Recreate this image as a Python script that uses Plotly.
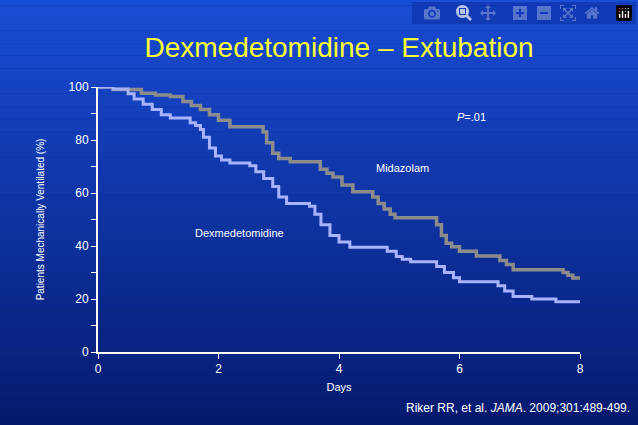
import plotly.graph_objects as go

mid_days = [0, 0.25, 0.72, 0.95, 1.2, 1.41, 1.55, 1.7, 1.85, 2.0, 2.19, 2.74, 2.8, 2.9, 3.0, 3.19, 3.69, 3.8, 3.9, 4.05, 4.23, 4.56, 4.65, 4.75, 4.85, 4.93, 5.62, 5.7, 5.78, 5.87, 6.0, 6.28, 6.67, 6.78, 6.89, 7.72, 7.8, 7.88, 8.0]
mid_vals = [100, 99.1, 97.6, 97.0, 96.4, 94.5, 93.0, 91.5, 89.5, 87.5, 85.0, 83.0, 79.0, 75.0, 73.0, 71.8, 69.0, 67.5, 66.0, 63.0, 60.5, 58.5, 56.0, 54.0, 52.0, 50.7, 48.0, 44.0, 41.0, 39.7, 38.0, 36.2, 34.5, 33.0, 31.0, 30.0, 29.0, 27.9, 27.9]
dex_days = [0, 0.25, 0.5, 0.6, 0.75, 0.9, 1.05, 1.2, 1.53, 1.62, 1.7, 1.75, 1.85, 1.95, 2.05, 2.19, 2.52, 2.62, 2.75, 2.9, 3.0, 3.13, 3.51, 3.6, 3.7, 3.85, 4.0, 4.18, 4.8, 4.95, 5.05, 5.19, 5.62, 5.75, 5.9, 6.0, 6.64, 6.75, 6.89, 7.2, 7.6, 8.0]
dex_vals = [100, 99.2, 97.5, 95.5, 93.5, 91.5, 89.5, 88.3, 86.5, 85.5, 84.0, 81.0, 77.0, 74.0, 72.5, 71.3, 70.3, 68.0, 65.5, 62.5, 58.5, 56.0, 55.0, 52.0, 48.0, 44.0, 41.5, 39.5, 38.0, 36.0, 35.0, 34.1, 32.3, 30.0, 28.0, 26.5, 25.0, 23.0, 20.9, 20.0, 19.0, 19.0]

fig = go.Figure()
fig.add_trace(go.Scatter(x=mid_days, y=mid_vals, mode="lines", line=dict(shape="hv", color="#8c8c8c", width=3.5), name="Midazolam"))
fig.add_trace(go.Scatter(x=dex_days, y=dex_vals, mode="lines", line=dict(shape="hv", color="#a9b4ff", width=3), name="Dexmedetomidine"))

# gradient background
n = 40
top = (26, 80, 220); bot = (4, 22, 100)
shapes = []
for i in range(n):
    t = i / (n - 1)
    c = tuple(int(top[k] + (bot[k] - top[k]) * t) for k in range(3))
    shapes.append(dict(type="rect", xref="paper", yref="paper", x0=-0.5, x1=1.5,
                       y0=1.45 - (i + 1) * 1.9 / n, y1=1.45 - i * 1.9 / n,
                       fillcolor="rgb(%d,%d,%d)" % c, line=dict(width=0), layer="below"))

fig.update_layout(
    width=638, height=425, margin=dict(l=98, r=58, t=87, b=73, autoexpand=False),
    paper_bgcolor="#0a2a9a", plot_bgcolor="rgba(0,0,0,0)", showlegend=False,
    shapes=shapes, font=dict(family="Arial, Liberation Sans", color="white"),
    title=dict(text="Dexmedetomidine – Extubation", x=0.5, xref="paper", y=0.89, yanchor="middle",
               font=dict(size=28, color="#ffff33", family="Arial, Liberation Sans")),
    xaxis=dict(range=[0, 8], tickvals=[0, 2, 4, 6, 8], showgrid=False, zeroline=False,
               showline=True, linecolor="white", linewidth=2, ticks="outside", tickcolor="white",
               ticklen=5, tickfont=dict(size=12, color="white"),
               title=dict(text="Days", font=dict(size=11, color="white"), standoff=8)),
    yaxis=dict(range=[0, 100], tickvals=[0, 20, 40, 60, 80, 100], showgrid=False, zeroline=False,
               showline=True, linecolor="white", linewidth=2, ticks="outside", tickcolor="white",
               ticklen=5, tickfont=dict(size=12, color="white"),
               minor=dict(tickvals=[10, 30, 50, 70, 90], ticks="outside", ticklen=5, tickcolor="white"),
               title=dict(text="Patients Mechanically Ventilated (%)", font=dict(size=10, color="white"), standoff=22)),
    annotations=[
        dict(text="<i>P</i>=.01", x=6.2, y=88.5, xref="x", yref="y", showarrow=False, font=dict(size=11, color="white")),
        dict(text="Midazolam", x=5.05, y=69.5, xref="x", yref="y", showarrow=False, font=dict(size=11, color="white")),
        dict(text="Dexmedetomidine", x=2.35, y=45, xref="x", yref="y", showarrow=False, font=dict(size=11, color="white")),
        dict(text="Riker RR, et al. <i>JAMA</i>. 2009;301:489-499.", x=1.0, y=-0.245, xref="paper", yref="paper",
             xanchor="right", showarrow=False, xshift=52, font=dict(size=12, color="white")),
    ],
)
fig.write_html("out.html", post_script="document.body.style.margin='0';")
